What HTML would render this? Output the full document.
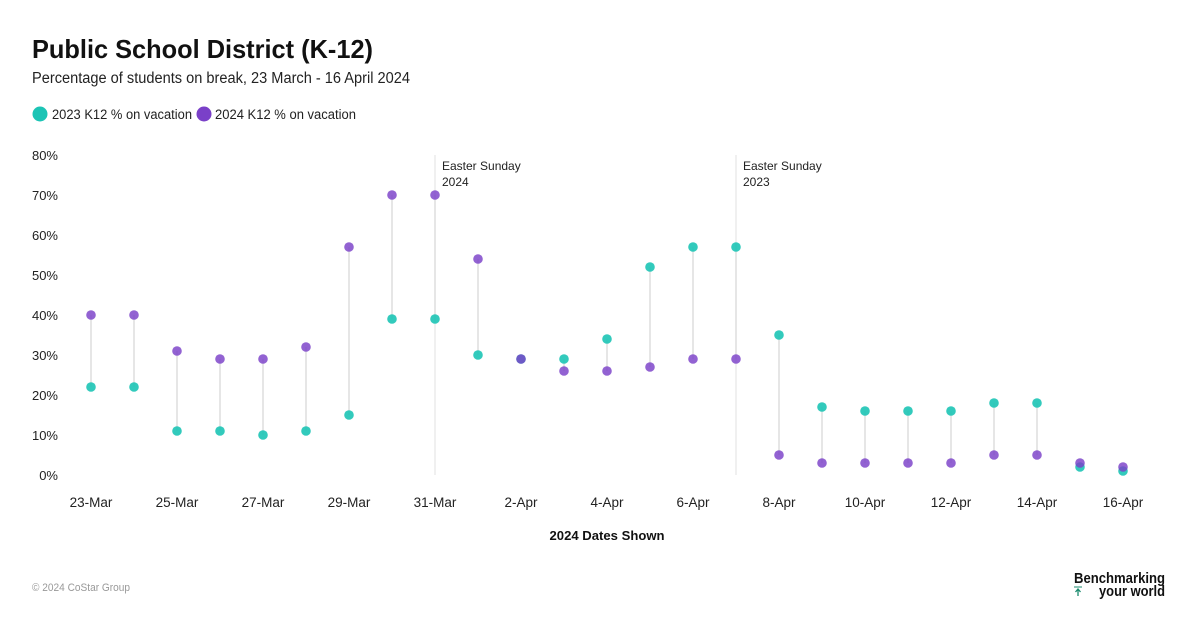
<!DOCTYPE html>
<html><head><meta charset="utf-8"><style>
html,body{margin:0;padding:0;background:#fff;}
svg{display:block;font-family:"Liberation Sans",sans-serif;}
</style></head><body>
<svg width="1200" height="628" viewBox="0 0 1200 628" xmlns="http://www.w3.org/2000/svg">
<rect width="1200" height="628" fill="#fff"/>
<text x="32" y="58" font-size="26" font-weight="bold" fill="#111" textLength="341" lengthAdjust="spacingAndGlyphs">Public School District (K-12)</text>
<text x="32" y="83" font-size="15.5" fill="#222" textLength="378" lengthAdjust="spacingAndGlyphs">Percentage of students on break, 23 March - 16 April 2024</text>
<circle cx="40" cy="114" r="7.5" fill="#1cc4b5"/>
<text x="52" y="119" font-size="13.5" fill="#222" textLength="140" lengthAdjust="spacingAndGlyphs">2023 K12 % on vacation</text>
<circle cx="204" cy="114" r="7.5" fill="#7a40c8"/>
<text x="215" y="119" font-size="13.5" fill="#222" textLength="141" lengthAdjust="spacingAndGlyphs">2024 K12 % on vacation</text>

<g font-size="13" fill="#222" text-anchor="end">
<text x="58" y="160">80%</text>
<text x="58" y="200">70%</text>
<text x="58" y="240">60%</text>
<text x="58" y="280">50%</text>
<text x="58" y="320">40%</text>
<text x="58" y="360">30%</text>
<text x="58" y="400">20%</text>
<text x="58" y="440">10%</text>
<text x="58" y="480">0%</text>
</g>

<line x1="435" y1="155" x2="435" y2="475" stroke="#e2e2e2" stroke-width="1"/>
<line x1="736" y1="155" x2="736" y2="475" stroke="#e2e2e2" stroke-width="1"/>
<g font-size="12" fill="#222">
<text x="442" y="170">Easter Sunday</text>
<text x="442" y="186">2024</text>
<text x="743" y="170">Easter Sunday</text>
<text x="743" y="186">2023</text>
</g>

<g stroke="#e0e0e0" stroke-width="1.6">
<line x1="91" y1="387" x2="91" y2="315"/>
<line x1="134" y1="387" x2="134" y2="315"/>
<line x1="177" y1="431" x2="177" y2="351"/>
<line x1="220" y1="431" x2="220" y2="359"/>
<line x1="263" y1="435" x2="263" y2="359"/>
<line x1="306" y1="431" x2="306" y2="347"/>
<line x1="349" y1="415" x2="349" y2="247"/>
<line x1="392" y1="319" x2="392" y2="195"/>
<line x1="435" y1="319" x2="435" y2="195"/>
<line x1="478" y1="355" x2="478" y2="259"/>
<line x1="564" y1="359" x2="564" y2="371"/>
<line x1="607" y1="339" x2="607" y2="371"/>
<line x1="650" y1="267" x2="650" y2="367"/>
<line x1="693" y1="247" x2="693" y2="359"/>
<line x1="736" y1="247" x2="736" y2="359"/>
<line x1="779" y1="335" x2="779" y2="455"/>
<line x1="822" y1="407" x2="822" y2="463"/>
<line x1="865" y1="411" x2="865" y2="463"/>
<line x1="908" y1="411" x2="908" y2="463"/>
<line x1="951" y1="411" x2="951" y2="463"/>
<line x1="994" y1="403" x2="994" y2="455"/>
<line x1="1037" y1="403" x2="1037" y2="455"/>
<line x1="1080" y1="467" x2="1080" y2="463"/>
<line x1="1123" y1="471" x2="1123" y2="467"/>
</g>

<g fill="#1cc4b5" fill-opacity="0.9">
<circle cx="91" cy="387" r="4.8"/>
<circle cx="134" cy="387" r="4.8"/>
<circle cx="177" cy="431" r="4.8"/>
<circle cx="220" cy="431" r="4.8"/>
<circle cx="263" cy="435" r="4.8"/>
<circle cx="306" cy="431" r="4.8"/>
<circle cx="349" cy="415" r="4.8"/>
<circle cx="392" cy="319" r="4.8"/>
<circle cx="435" cy="319" r="4.8"/>
<circle cx="478" cy="355" r="4.8"/>
<circle cx="521" cy="359" r="4.8"/>
<circle cx="564" cy="359" r="4.8"/>
<circle cx="607" cy="339" r="4.8"/>
<circle cx="650" cy="267" r="4.8"/>
<circle cx="693" cy="247" r="4.8"/>
<circle cx="736" cy="247" r="4.8"/>
<circle cx="779" cy="335" r="4.8"/>
<circle cx="822" cy="407" r="4.8"/>
<circle cx="865" cy="411" r="4.8"/>
<circle cx="908" cy="411" r="4.8"/>
<circle cx="951" cy="411" r="4.8"/>
<circle cx="994" cy="403" r="4.8"/>
<circle cx="1037" cy="403" r="4.8"/>
<circle cx="1080" cy="467" r="4.8"/>
<circle cx="1123" cy="471" r="4.8"/>
</g>

<g fill="#7a40c8" fill-opacity="0.82">
<circle cx="91" cy="315" r="4.8"/>
<circle cx="134" cy="315" r="4.8"/>
<circle cx="177" cy="351" r="4.8"/>
<circle cx="220" cy="359" r="4.8"/>
<circle cx="263" cy="359" r="4.8"/>
<circle cx="306" cy="347" r="4.8"/>
<circle cx="349" cy="247" r="4.8"/>
<circle cx="392" cy="195" r="4.8"/>
<circle cx="435" cy="195" r="4.8"/>
<circle cx="478" cy="259" r="4.8"/>
<circle cx="521" cy="359" r="4.8"/>
<circle cx="564" cy="371" r="4.8"/>
<circle cx="607" cy="371" r="4.8"/>
<circle cx="650" cy="367" r="4.8"/>
<circle cx="693" cy="359" r="4.8"/>
<circle cx="736" cy="359" r="4.8"/>
<circle cx="779" cy="455" r="4.8"/>
<circle cx="822" cy="463" r="4.8"/>
<circle cx="865" cy="463" r="4.8"/>
<circle cx="908" cy="463" r="4.8"/>
<circle cx="951" cy="463" r="4.8"/>
<circle cx="994" cy="455" r="4.8"/>
<circle cx="1037" cy="455" r="4.8"/>
<circle cx="1080" cy="463" r="4.8"/>
<circle cx="1123" cy="467" r="4.8"/>
</g>

<g font-size="13.5" fill="#222" text-anchor="middle">
<text x="91" y="507">23-Mar</text>
<text x="177" y="507">25-Mar</text>
<text x="263" y="507">27-Mar</text>
<text x="349" y="507">29-Mar</text>
<text x="435" y="507">31-Mar</text>
<text x="521" y="507">2-Apr</text>
<text x="607" y="507">4-Apr</text>
<text x="693" y="507">6-Apr</text>
<text x="779" y="507">8-Apr</text>
<text x="865" y="507">10-Apr</text>
<text x="951" y="507">12-Apr</text>
<text x="1037" y="507">14-Apr</text>
<text x="1123" y="507">16-Apr</text>
</g>
<text x="607" y="540" font-size="13" font-weight="bold" fill="#111" text-anchor="middle" textLength="115" lengthAdjust="spacingAndGlyphs">2024 Dates Shown</text>
<text x="32" y="591" font-size="11" fill="#999" textLength="98" lengthAdjust="spacingAndGlyphs">© 2024 CoStar Group</text>

<text x="1074" y="583" font-size="15" font-weight="bold" fill="#111" textLength="91" lengthAdjust="spacingAndGlyphs">Benchmarking</text>
<text x="1099" y="596" font-size="15" font-weight="bold" fill="#111" textLength="66" lengthAdjust="spacingAndGlyphs">your world</text>
<line x1="1074" y1="587" x2="1082" y2="587" stroke="#1a8a6e" stroke-width="1"/>
<path d="M1078 596 L1078 590 M1075.5 592 L1078 589 L1080.5 592" stroke="#1a8a6e" stroke-width="1.3" fill="none"/>
</svg>
</body></html>
